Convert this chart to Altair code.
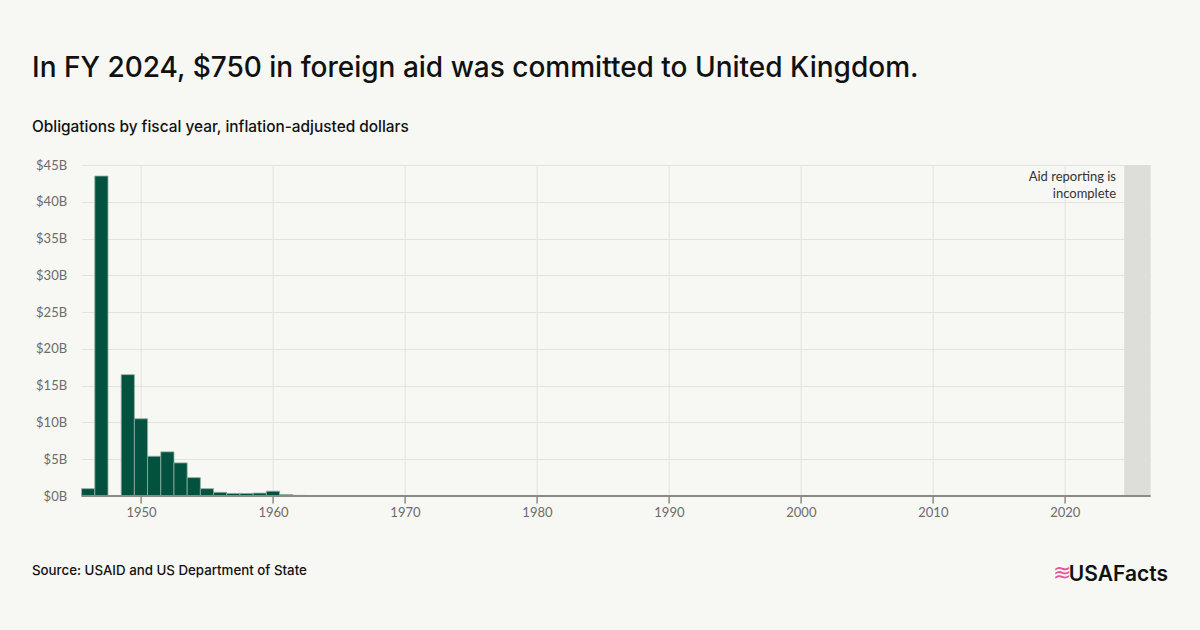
import altair as alt
import pandas as pd

# Fiscal years and inflation-adjusted obligations (billions of dollars)
years = list(range(1946, 2025))
obligations_b = [
    1.0, 43.5, 0.0, 16.5, 10.5, 5.4, 6.0, 4.5, 2.5, 1.0,
    0.5, 0.35, 0.35, 0.4, 0.65, 0.2, 0.08, 0.06, 0.04, 0.03,
    0.02, 0.02, 0.02, 0.01, 0.01, 0.01, 0.01, 0.01, 0.01, 0.01,
] + [0.005] * 48 + [0.00000075]

y_ticks = [0, 5, 10, 15, 20, 25, 30, 35, 40, 45]
x_ticks = [1950, 1960, 1970, 1980, 1990, 2000, 2010, 2020]

incomplete_start = [2024.5]
incomplete_end = [2026.5]

df = pd.DataFrame({"year": years, "value": obligations_b})
df["x0"] = df["year"] - 0.5
df["x1"] = df["year"] + 0.5

band_df = pd.DataFrame({"start": incomplete_start, "end": incomplete_end})

W, H = 1069, 331
PAD_L, PAD_T = 81.6, 165

x_scale = alt.Scale(domain=[1945.5, 2026.5], nice=False, zero=False)
y_scale = alt.Scale(domain=[0, 45], nice=False)

FONT_AXIS = "Source Sans Pro, Lato, sans-serif"
FONT_HEAD = "Inter, sans-serif"

x_axis = alt.Axis(
    values=x_ticks, format="d", title=None, grid=True,
    gridColor="#e2e2de", domain=False,
    tickColor="#8a8a86", tickSize=7, tickWidth=1.5,
    labelColor="#6b6b6b", labelFont=FONT_AXIS, labelFontSize=13,
    labelPadding=3,
)

band = alt.Chart(band_df).mark_rect(color="#ddddd9").encode(
    x=alt.X("start:Q", scale=x_scale, axis=x_axis),
    x2="end:Q",
    y=alt.value(0),
    y2=alt.value(H),
)

bars = alt.Chart(df).mark_rect(
    color="#03523f", stroke="#8fb0a4", strokeWidth=0.8
).encode(
    x=alt.X("x0:Q", scale=x_scale, axis=x_axis),
    x2="x1:Q",
    y=alt.Y(
        "value:Q",
        scale=y_scale,
        axis=alt.Axis(
            values=y_ticks, title=None, grid=True, gridColor="#e2e2de",
            domain=False, ticks=False, labelExpr="'$' + datum.value + 'B'",
            labelColor="#6b6b6b", labelFont=FONT_AXIS, labelFontSize=13,
            labelPadding=15, labelOverlap=False,
        ),
    ),
    y2=alt.datum(0),
)

# Axis baseline drawn over the bars
baseline = alt.Chart(pd.DataFrame({"v": [0]})).mark_rule(
    color="#8a8a86", strokeWidth=2
).encode(y=alt.value(H), x=alt.value(0), x2=alt.value(W))

note = alt.Chart(pd.DataFrame({"t": [["Aid reporting is", "incomplete"]]})).mark_text(
    align="right", baseline="top", font=FONT_AXIS, fontSize=13,
    color="#333333", lineHeight=17,
).encode(text="t", x=alt.value(1116 - PAD_L), y=alt.value(171 - PAD_T))


def label(text, x, y, size, weight, color="#111111", font=FONT_HEAD, align="left"):
    return alt.Chart(pd.DataFrame({"t": [text]})).mark_text(
        align=align, baseline="alphabetic", font=font, fontSize=size,
        fontWeight=weight, color=color,
    ).encode(text="t", x=alt.value(x - PAD_L), y=alt.value(y - PAD_T))


title = label("In FY 2024, $750 in foreign aid was committed to United Kingdom.", 32, 77, 28, 500)
subtitle = label("Obligations by fiscal year, inflation-adjusted dollars", 32, 132, 15.4, 500)
source = label("Source: USAID and US Department of State", 32, 575, 13.3, 500)
logo = label("USAFacts", 1168, 581, 21, 600, align="right")
logo_mark = label("≋", 1062, 580, 22, 400, color="#e8559a", align="center")

chart = alt.layer(band, bars, baseline, note, title, subtitle, source, logo, logo_mark).properties(
    width=W,
    height=H,
    background="#f7f7f3",
    padding={"left": PAD_L, "top": PAD_T, "right": 1200 - PAD_L - W, "bottom": 630 - PAD_T - H},
    autosize=alt.AutoSizeParams(type="none"),
).configure_view(stroke=None)

chart.save("out.html", embed_options={"renderer": "svg", "actions": False})
